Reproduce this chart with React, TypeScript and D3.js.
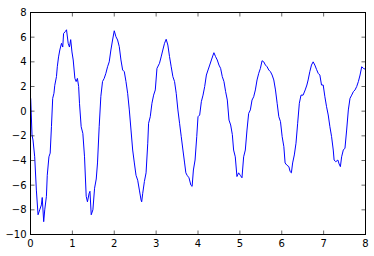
import React from "react";
import * as d3 from "d3";

const xs: number[] = [
  0.005, 0.036, 0.06, 0.10, 0.14, 0.18, 0.22, 0.26, 0.28, 0.315, 0.34, 0.38, 0.40, 0.44, 0.47, 0.50,
  0.53, 0.56, 0.58, 0.62, 0.64, 0.67, 0.70, 0.74, 0.77, 0.79, 0.83, 0.86, 0.90, 0.93, 0.96, 0.99,
  1.02, 1.06, 1.09, 1.12, 1.15, 1.17, 1.21, 1.25, 1.29, 1.33, 1.36, 1.40, 1.42, 1.45, 1.49, 1.53,
  1.57, 1.60, 1.64, 1.68, 1.72, 1.76, 1.80, 1.84, 1.88, 1.92, 1.96, 2.00, 2.04, 2.08, 2.12, 2.16,
  2.20, 2.24, 2.28, 2.32, 2.36, 2.40, 2.44, 2.48, 2.52, 2.56, 2.60, 2.64, 2.655, 2.68, 2.72, 2.76,
  2.80, 2.82, 2.86, 2.90, 2.94, 2.98, 3.02, 3.08, 3.12, 3.16, 3.20, 3.24, 3.28, 3.32, 3.36, 3.40,
  3.44, 3.48, 3.52, 3.56, 3.60, 3.64, 3.68, 3.71, 3.74, 3.785, 3.83, 3.86, 3.89, 3.93, 3.97, 4.00,
  4.04, 4.08, 4.12, 4.16, 4.20, 4.24, 4.28, 4.32, 4.36, 4.38, 4.42, 4.46, 4.50, 4.54, 4.58, 4.62,
  4.66, 4.70, 4.74, 4.78, 4.82, 4.85, 4.89, 4.93, 4.97, 5.01, 5.05, 5.09, 5.13, 5.17, 5.21, 5.25,
  5.29, 5.33, 5.37, 5.41, 5.45, 5.49, 5.53, 5.57, 5.61, 5.65, 5.69, 5.73, 5.77, 5.81, 5.85, 5.89,
  5.93, 5.97, 6.01, 6.05, 6.08, 6.12, 6.17, 6.20, 6.23, 6.26, 6.30, 6.34, 6.38, 6.42, 6.46, 6.51,
  6.56, 6.60, 6.63, 6.67, 6.71, 6.75, 6.79, 6.83, 6.87, 6.91, 6.95, 6.99, 7.03, 7.07, 7.11, 7.15,
  7.19, 7.23, 7.25, 7.29, 7.34, 7.37, 7.40, 7.43, 7.47, 7.51, 7.55, 7.59, 7.63, 7.67, 7.71, 7.75,
  7.79, 7.83, 7.87, 7.91, 7.95, 8.0,
];

const ys: number[] = [
  1.04, -1.93, -2.34, -3.7, -6.4, -8.4, -8.0, -7.6, -7.0, -8.96, -8.0, -6.9, -5.2, -3.7, -3.4, -1.26,
  1.04, 1.45, 2.1, 2.8, 3.6, 4.4, 4.96, 5.5, 5.2, 6.3, 6.45, 6.6, 5.5, 5.2, 5.8, 4.8,
  4.15, 2.66, 2.4, 2.66, 2.0, 0.64, -1.26, -1.8, -3.7, -6.9, -7.35, -6.66, -6.5, -8.4, -8.0, -6.25,
  -5.5, -4.2, -1.26, 1.2, 2.4, 2.66, 3.07, 3.6, 4.0, 4.96, 5.77, 6.52, 6.04, 5.77, 5.23, 4.15,
  3.34, 3.2, 2.4, 1.45, 0.1, -1.53, -3.15, -4.2, -5.2, -5.6, -6.4, -7.2, -7.35, -6.66, -5.7, -5.0,
  -2.6, -0.98, -0.45, 0.64, 1.3, 1.72, 3.47, 3.88, 4.4, 4.96, 5.5, 5.83, 5.36, 4.42, 3.6, 2.8,
  2.4, 1.45, 0.1, -0.98, -2.07, -3.15, -4.2, -5.0, -5.2, -5.4, -6.0, -6.1, -4.77, -3.96, -2.07, -0.45,
  -0.31, 0.77, 1.3, 2.0, 2.93, 3.34, 3.74, 4.15, 4.55, 4.74, 4.42, 4.15, 3.74, 3.47, 2.8, 2.4,
  1.58, 0.9, -0.72, -1.12, -1.9, -3.15, -3.7, -5.3, -5.0, -5.2, -5.4, -3.7, -3.15, -1.53, -0.18, 0.1,
  0.9, 1.17, 1.72, 2.53, 3.07, 3.47, 4.09, 4.0, 3.74, 3.6, 3.34, 3.2, 2.93, 2.53, 1.72, 0.64,
  -0.45, -0.85, -2.07, -2.88, -4.2, -4.37, -4.5, -4.9, -5.0, -4.2, -3.55, -2.6, -0.98, 0.64, 1.3, 1.3,
  1.72, 2.12, 2.53, 3.2, 3.74, 4.0, 3.74, 3.39, 3.07, 2.93, 2.12, 2.12, 1.17, 0.36, -0.31, -1.26,
  -2.07, -3.15, -3.96, -4.1, -3.96, -4.28, -4.5, -3.7, -3.15, -3.0, -1.53, 0.1, 1.04, 1.3, 1.58, 1.72,
  2.0, 2.4, 2.93, 3.6, 3.47, 3.39,
];

const xTicks: number[] = [0, 1, 2, 3, 4, 5, 6, 7, 8];
const yTicks: number[] = [-10, -8, -6, -4, -2, 0, 2, 4, 6, 8];

const W = 374;
const H = 256;
const left = 30.5;
const right = 365.5;
const top = 12.5;
const bottom = 234.5;

export default function App() {
  const x = d3.scaleLinear().domain([0, 8]).range([left, right]);
  const y = d3.scaleLinear().domain([-10, 8]).range([bottom, top]);
  const pts: [number, number][] = xs.map((v, i) => [v, ys[i]]);
  const line = d3
    .line<[number, number]>()
    .x((d) => x(d[0]))
    .y((d) => y(d[1]));
  const fmt = (v: number) => (v < 0 ? "\u2212" + Math.abs(v) : String(v));
  const tl = 4;
  return (
    <svg
      width={W}
      height={H}
      style={{ position: "absolute", left: 0, top: 0, background: "#fff" }}
      fontFamily="DejaVu Sans"
      fontSize={10}
    >
      <rect x={0} y={0} width={W} height={H} fill="#fff" />
      <defs>
        <clipPath id="clip">
          <rect x={left} y={top} width={right - left} height={bottom - top} />
        </clipPath>
      </defs>
      <path
        d={line(pts) || ""}
        fill="none"
        stroke="#0000ff"
        strokeWidth={1}
        strokeLinejoin="round"
        clipPath="url(#clip)"
      />
      <rect
        x={left}
        y={top}
        width={right - left}
        height={bottom - top}
        fill="none"
        stroke="#000"
        strokeWidth={1}
      />
      {xTicks.map((t) => (
        <g key={"x" + t}>
          <line x1={x(t)} x2={x(t)} y1={bottom} y2={bottom - tl} stroke="#000" strokeWidth={0.6} />
          <line x1={x(t)} x2={x(t)} y1={top} y2={top + tl} stroke="#000" strokeWidth={0.6} />
          <text x={x(t)} y={246.5} textAnchor="middle" fill="#000">
            {fmt(t)}
          </text>
        </g>
      ))}
      {yTicks.map((t) => (
        <g key={"y" + t}>
          <line x1={left} x2={left + tl} y1={y(t)} y2={y(t)} stroke="#000" strokeWidth={0.6} />
          <line x1={right} x2={right - tl} y1={y(t)} y2={y(t)} stroke="#000" strokeWidth={0.6} />
          <text x={26.5} y={y(t)} dy="0.36em" textAnchor="end" fill="#000">
            {fmt(t)}
          </text>
        </g>
      ))}
    </svg>
  );
}
